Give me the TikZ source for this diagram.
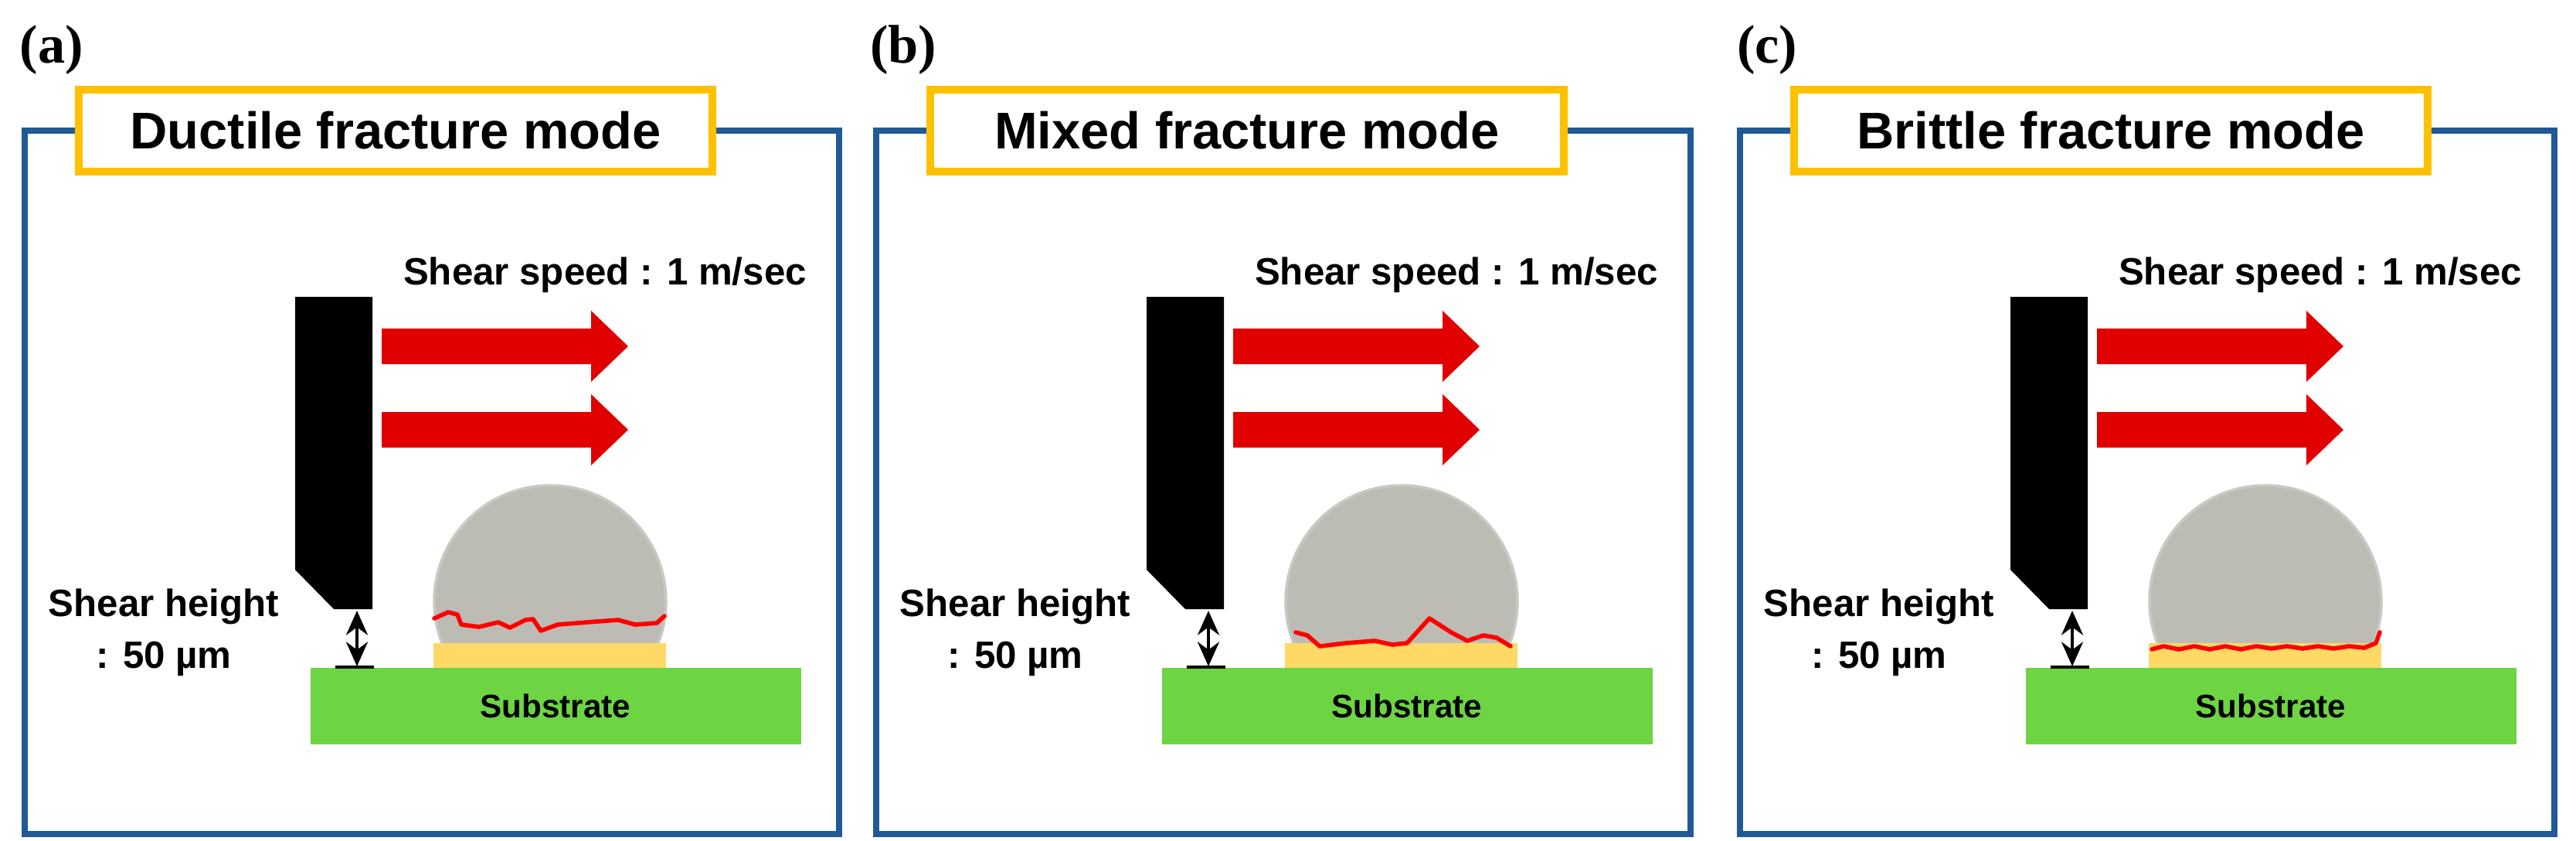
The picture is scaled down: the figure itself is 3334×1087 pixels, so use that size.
\documentclass[tikz,border=0pt]{standalone}
\usepackage{fontspec}
\setmainfont{Liberation Sans}
\newfontfamily\seriffont{Liberation Serif}
\usetikzlibrary{arrows.meta}
\definecolor{frameblue}{HTML}{1F5A96}
\definecolor{titleyellow}{HTML}{FFC000}
\definecolor{arrowred}{HTML}{E00000}
\definecolor{ballgray}{HTML}{BCBCB4}
\definecolor{padyellow}{HTML}{FFD966}
\definecolor{subgreen}{HTML}{6DD444}
\tikzset{
  frame/.style={draw=frameblue,line width=2.3pt},
  titlebox/.style={draw=titleyellow,fill=white,line width=2.8pt},
  titletext/.style={font=\fontsize{19}{22}\selectfont\bfseries},
  speedtext/.style={font=\fontsize{14}{17}\selectfont\bfseries},
  heighttext/.style={font=\fontsize{14}{17}\selectfont\bfseries,align=center},
  subtext/.style={font=\fontsize{12}{14}\selectfont\bfseries},
  paneltext/.style={font=\fontsize{20}{24}\selectfont\seriffont\bfseries},
  bigarrow/.style={fill=arrowred},
  crack/.style={draw=red,line width=1.6pt,line join=round,line cap=round},
}
\newcommand{\drawpanel}[5]{%
\begin{scope}[shift={(#1,0)}]
  \node[paneltext] (lab#5) at (67,65) {#2};
  \draw[frame] (32,169) rectangle (1086,1079);
  \draw[titlebox] (102,116) rectangle (922,222);
  \node[titletext] (title#5) at (512,169) {#3};
  \fill (382,384) -- (482,384) -- (482,788) -- (432,788) -- (382,737) -- cycle;
  \coordinate (tip#5) at (462,790);
  \coordinate (base#5) at (462,862);
  \foreach \yy in {448,556}{
    \fill[bigarrow] (494,\yy-23) -- (765,\yy-23) -- (765,\yy-46) -- (813,\yy) -- (765,\yy+46) -- (765,\yy+23) -- (494,\yy+23) -- cycle;}
  \node[speedtext] (speed#5) at (783,356) {Shear speed : 1 m/sec};
  \begin{scope}
    \clip (500,600) rectangle (900,832);
    \fill[ballgray,draw=ballgray!80!white,line width=1pt] (712,778) circle (150);
  \end{scope}
  \fill[padyellow] (561,832) rectangle (862,864);
  \fill[subgreen] (402,864) rectangle (1037,963);
  \node[subtext] (sub#5) at (719,913) {Substrate};
  \draw[crack] #4;
  \draw[line width=1pt,{Stealth[length=9pt,width=8pt]}-{Stealth[length=9pt,width=8pt]}] (tip#5) -- (base#5);
  \draw[line width=1.2pt] (434,863) -- (484,863);
  \node[heighttext] (height#5) at (212,818) {Shear height\\[2pt] : 50 \textmu m};
\end{scope}}
\begin{document}
\begin{tikzpicture}[x=0.01cm,y=-0.01cm]
\useasboundingbox[fill=white] (0,0) rectangle (3334,1087);
\drawpanel{0}{(a)}{Ductile fracture mode}{(562,800) -- (580,792) -- (592,795) -- (597,808) -- (620,811) -- (645,805) -- (660,812) -- (680,802) -- (690,801) -- (700,816) -- (722,808) -- (760,805) -- (800,802) -- (822,808) -- (850,806) -- (860,797)}{a}
\drawpanel{1102}{(b)}{Mixed fracture mode}{(575,818) -- (590,822) -- (606,836) -- (640,832) -- (677,829) -- (700,834) -- (719,832) -- (748,800) -- (776,818) -- (797,829) -- (818,822) -- (835,825) -- (853,836)}{b}
\drawpanel{2220}{(c)}{Brittle fracture mode}{(565,840) -- (580,836) -- (600,840) -- (620,836) -- (640,840) -- (660,836) -- (680,840) -- (700,836) -- (720,839) -- (740,836) -- (760,839) -- (780,836) -- (800,839) -- (820,836) -- (840,838) -- (855,832) -- (860,818)}{c}
\end{tikzpicture}
\end{document}
